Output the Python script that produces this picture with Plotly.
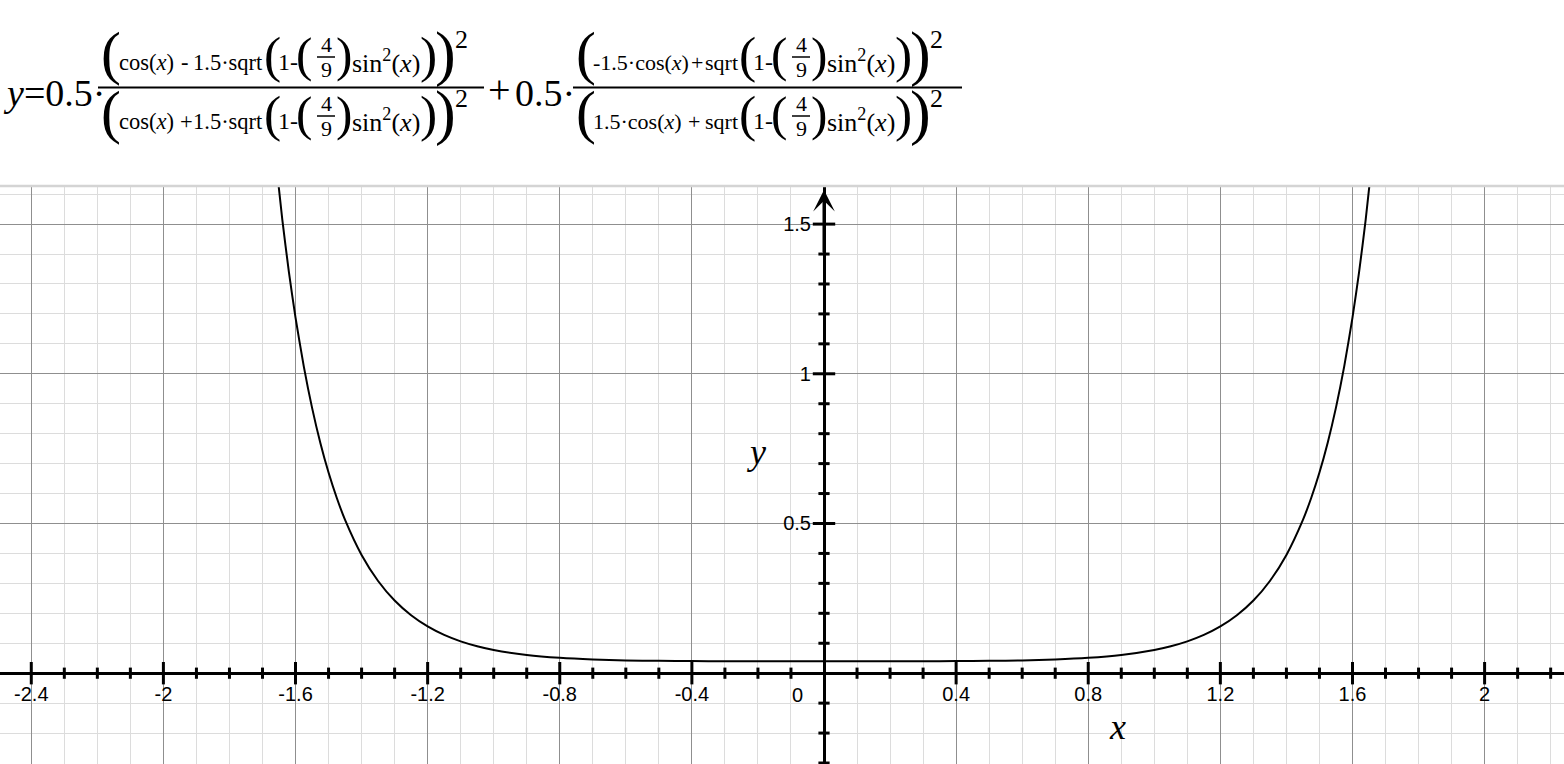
import plotly.graph_objects as go

# ---------------- data ----------------
X_CURVE = [-1.66, -1.64, -1.62, -1.6, -1.575, -1.55, -1.525, -1.5, -1.475, -1.45,
           -1.4, -1.35, -1.3, -1.25, -1.2, -1.15, -1.1, -1.05, -1.0, -0.9, -0.8, -0.7,
           -0.6, -0.5, -0.4, -0.3, -0.2,
           0.0, 0.2, 0.3, 0.4, 0.5, 0.6, 0.7, 0.8, 0.9, 1.0, 1.05, 1.1, 1.15, 1.2, 1.25,
           1.3, 1.35, 1.4, 1.45, 1.475, 1.5, 1.525, 1.55, 1.575, 1.6, 1.62, 1.64, 1.66]
Y_CURVE = [1.7174, 1.5149, 1.3397, 1.1877, 1.0248, 0.8871, 0.7701, 0.6704, 0.5852, 0.5121,
           0.3951, 0.3080, 0.2426, 0.1934, 0.1561, 0.1278, 0.1063, 0.0900, 0.0775, 0.0608, 0.0512, 0.0458,
           0.0428, 0.0412, 0.0405, 0.0401, 0.0400,
           0.0400, 0.0400, 0.0401, 0.0405, 0.0412, 0.0428, 0.0458, 0.0512, 0.0608, 0.0775, 0.0900, 0.1063,
           0.1278, 0.1561, 0.1934, 0.2426, 0.3080, 0.3951, 0.5121, 0.5852, 0.6704, 0.7701, 0.8871, 1.0248,
           1.1877, 1.3397, 1.5149, 1.7174]

X_TICK_VALS = [-2.4, -2.0, -1.6, -1.2, -0.8, -0.4, 0.4, 0.8, 1.2, 1.6, 2.0]
X_TICK_TEXT = ["-2.4", "-2", "-1.6", "-1.2", "-0.8", "-0.4", "0.4", "0.8", "1.2", "1.6", "2"]
X_MINOR = [-2.3, -2.2, -2.1, -1.9, -1.8, -1.7, -1.5, -1.4, -1.3, -1.1, -1.0, -0.9,
           -0.7, -0.6, -0.5, -0.3, -0.2, -0.1, 0.1, 0.2, 0.3, 0.5, 0.6, 0.7, 0.9, 1.0,
           1.1, 1.3, 1.4, 1.5, 1.7, 1.8, 1.9, 2.1, 2.2]
Y_TICK_VALS = [0.5, 1.0, 1.5]
Y_TICK_TEXT = ["0.5", "1", "1.5"]
Y_MINOR = [-0.3, -0.2, -0.1, 0.1, 0.2, 0.3, 0.4, 0.6, 0.7, 0.8, 0.9, 1.1, 1.2, 1.3, 1.4]
ORIGIN_LABEL = "0"

X_RANGE = [-2.4947, 2.2404]
Y_RANGE = [-0.3033, 1.6239]

# ---------------- layout helpers ----------------
W, H, TOP = 1564, 764, 187
PH = H - TOP
SERIF = "Liberation Serif"
SANS = "Liberation Sans"

annotations = []
shapes = []


def P(px, py):
    return px / W, (H - py) / PH


def txt(px, baseline, text, size, anchor="left"):
    x, y = P(px, baseline - 0.3375 * size)
    annotations.append(dict(xref="paper", yref="paper", x=x, y=y, xanchor=anchor,
                            yanchor="middle", text=text, showarrow=False, borderpad=0,
                            font=dict(family=SERIF, size=size, color="black")))


def paren(px, top, bottom, ch):
    s = (bottom - top) / 0.853
    cy = (top + bottom) / 2
    txt(px, cy + 0.25 * s, ch, s)


def hbar(x0, x1, py, w=2):
    a, b = P(x0, py)
    c, _ = P(x1, py)
    shapes.append(dict(type="line", xref="paper", yref="paper", x0=a, x1=c, y0=b, y1=b,
                       line=dict(color="black", width=w)))


def row(dx, dy, pieces, size):
    paren(100 + dx, 33 + dy, 84 + dy, "(")
    for px, text, anchor in pieces:
        txt(px + dx, 70 + dy, text, size, anchor=anchor)
    paren(263 + dx, 37 + dy, 81 + dy, "(")
    txt(277 + dx, 70 + dy, "1-", 24)
    paren(295 + dx, 38 + dy, 80 + dy, "(")
    txt(326 + dx, 52 + dy, "4", 22, anchor="center")
    hbar(317 + dx, 335 + dx, 57 + dy, 1.5)
    txt(326 + dx, 77 + dy, "9", 22, anchor="center")
    paren(335 + dx, 38 + dy, 80 + dy, ")")
    txt(351 + dx, 70 + dy, "sin<sup>2</sup>(<i>x</i>)", 26)
    paren(419 + dx, 37 + dy, 81 + dy, ")")
    paren(434 + dx, 32 + dy, 85 + dy, ")")
    txt(454 + dx, 48 + dy, "2", 26)


# formula title
txt(2, 106, "<i>y</i>=0.5·", 38)
row(0, 0, [(118, "cos(<i>x</i>)", "left"), (185, "-", "center"), (264, "1.5·sqrt", "right")], 22.5)
row(0, 59, [(118, "cos(<i>x</i>)", "left"), (186, "+", "center"), (264, "1.5·sqrt", "right")], 22.5)
hbar(98, 484, 87.5, 2)
txt(499, 103, "+", 40, anchor="center")
txt(514, 106, "0.5·", 38)
row(475, 0, [(117, "-1.5·cos(<i>x</i>)", "left"), (222, "+", "center"), (264, "sqrt", "right")], 22)
row(475, 59, [(117, "1.5·cos(<i>x</i>)", "left"), (219, "+", "center"), (264, "sqrt", "right")], 22)
hbar(573, 962, 87.5, 2)

# top border of the graph area
shapes.append(dict(type="line", xref="paper", yref="paper", x0=0, x1=1,
                   y0=1 + 1.0 / PH, y1=1 + 1.0 / PH, line=dict(color="#d4d4d4", width=2.5)))

# axis titles, origin label, arrow
annotations.append(dict(xref="x", yref="y", x=-0.203, y=0.738, text="<i>y</i>", showarrow=False,
                        font=dict(family=SERIF, size=36, color="black")))
annotations.append(dict(xref="x", yref="y", x=0.888, y=-0.180, text="<i>x</i>", showarrow=False,
                        font=dict(family=SERIF, size=36, color="black")))
annotations.append(dict(xref="x", yref="y", x=0, y=0, xshift=-27, yshift=-9, xanchor="center",
                        yanchor="top", text=ORIGIN_LABEL, showarrow=False,
                        font=dict(family=SANS, size=20, color="black")))
annotations.append(dict(xref="x", yref="y", x=0, y=1.614, axref="x", ayref="y", ax=0, ay=1.40,
                        text="", showarrow=True, arrowhead=3, arrowwidth=3, arrowsize=1.2,
                        arrowcolor="black"))

fig = go.Figure()
fig.add_trace(go.Scatter(x=X_CURVE, y=Y_CURVE, mode="lines",
                         line=dict(color="black", width=2, shape="spline", smoothing=0.6),
                         hoverinfo="skip"))
# crossing tick marks on the axes
fig.add_trace(go.Scatter(x=X_TICK_VALS, y=[0] * len(X_TICK_VALS), mode="markers",
                         marker=dict(symbol="line-ns", size=16, line=dict(color="black", width=3)),
                         hoverinfo="skip"))
fig.add_trace(go.Scatter(x=X_MINOR, y=[0] * len(X_MINOR), mode="markers",
                         marker=dict(symbol="line-ns", size=8, line=dict(color="black", width=3)),
                         hoverinfo="skip"))
fig.add_trace(go.Scatter(x=[0] * len(Y_TICK_VALS), y=Y_TICK_VALS, mode="markers",
                         marker=dict(symbol="line-ew", size=16, line=dict(color="black", width=3)),
                         hoverinfo="skip"))
fig.add_trace(go.Scatter(x=[0] * len(Y_MINOR), y=Y_MINOR, mode="markers",
                         marker=dict(symbol="line-ew", size=8, line=dict(color="black", width=3)),
                         hoverinfo="skip"))

x_pos = (0 - Y_RANGE[0]) / (Y_RANGE[1] - Y_RANGE[0])
y_pos = (0 - X_RANGE[0]) / (X_RANGE[1] - X_RANGE[0])

fig.update_layout(
    width=W, height=H,
    margin=dict(l=0, r=0, t=TOP, b=0, pad=0),
    plot_bgcolor="white", paper_bgcolor="white",
    showlegend=False,
    annotations=annotations, shapes=shapes,
    xaxis=dict(range=X_RANGE, tickmode="array", tickvals=X_TICK_VALS, ticktext=X_TICK_TEXT,
               showgrid=True, gridcolor="#8f8f8f", gridwidth=1,
               minor=dict(tickmode="linear", tick0=0, dtick=0.1, showgrid=True,
                          gridcolor="#dcdcdc", gridwidth=1, ticks=""),
               zeroline=False, showline=True, linecolor="black", linewidth=3,
               anchor="free", position=x_pos, ticks="", ticklabelstandoff=2,
               tickfont=dict(family=SANS, size=20, color="black"), fixedrange=True),
    yaxis=dict(range=Y_RANGE, tickmode="array", tickvals=Y_TICK_VALS, ticktext=Y_TICK_TEXT,
               showgrid=True, gridcolor="#8f8f8f", gridwidth=1,
               minor=dict(tickmode="linear", tick0=0, dtick=0.1, showgrid=True,
                          gridcolor="#dcdcdc", gridwidth=1, ticks=""),
               zeroline=False, showline=True, linecolor="black", linewidth=3,
               anchor="free", position=y_pos, ticks="", ticklabelstandoff=8,
               tickfont=dict(family=SANS, size=20, color="black"), fixedrange=True),
)

fig.write_html("out.html", config={"displayModeBar": False},
               post_script="document.body.style.margin='0px';")
